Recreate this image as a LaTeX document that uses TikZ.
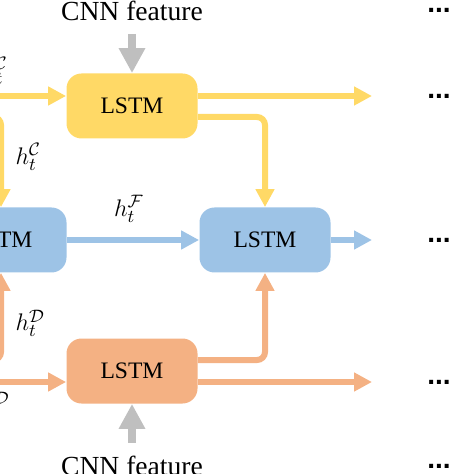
\documentclass[tikz,border=0pt]{standalone}
\usepackage{fontspec}
\setmainfont{Liberation Serif}
\setsansfont{Liberation Sans}
\usepackage[]{xcolor}
\usetikzlibrary{positioning,arrows.meta}

\definecolor{cellYellow}{HTML}{FFD966}
\definecolor{cellBlue}{HTML}{9DC3E6}
\definecolor{cellOrange}{HTML}{F4B183}
\definecolor{featGray}{HTML}{BFBFBF}

\begin{document}
\begin{tikzpicture}[
            x=0.5pt, y=-0.5pt,
            on grid,
            lstm/.style={rectangle, rounded corners=7.5pt, minimum width=65.5pt, minimum height=32.5pt, inner sep=0pt, font=\fontsize{11.8}{13}\selectfont},
            cellC/.style={lstm, fill=cellYellow},
            cellF/.style={lstm, fill=cellBlue},
            cellD/.style={lstm, fill=cellOrange},
            flow/.style={line width=3pt, -{Triangle[length=9pt,width=9pt]}, rounded corners=4pt},
            flowC/.style={flow, draw=cellYellow},
            flowF/.style={flow, draw=cellBlue},
            flowD/.style={flow, draw=cellOrange},
            feat/.style={line width=4pt, draw=featGray, -{Triangle[length=12.5pt,width=12.5pt]}, shorten <=3pt},
            feature/.style={anchor=base, inner sep=3.3pt, font=\fontsize{13.8}{16}\selectfont},
            hlabel/.style={font=\fontsize{12.5}{14}\selectfont},
            more/.style={anchor=base, inner sep=0pt, font=\sffamily\bfseries\fontsize{14}{16}\selectfont}
        ]
            \useasboundingbox (0,0) rectangle (474,474);
            \clip (0,0) rectangle (474,474);

            % LSTM cells
            \node[cellC] (C) at (132,106) {LSTM};
            \node[cellF, below right=67pt and 66.5pt of C] (F2) {LSTM};
            \node[cellF, left=132pt of F2] (F1) {LSTM};
            \node[cellD, below left=65.5pt and 66.5pt of F2] (D) {LSTM};

            % CNN features
            \node[feature] (cnnTop) at (132,20.5) {CNN feature};
            \node[feature] (cnnBot) at (132,475) {CNN feature};
            \draw[feat] (cnnTop) -- (C);
            \draw[feat] (cnnBot) -- (D);

            % loose ends
            \coordinate (Cin) at (-20,96);
            \coordinate (Din) at (-20,382);
            \coordinate (Cprev) at (-60,117);
            \coordinate (Dprev) at (-60,360);
            \coordinate (Cout) at (372,96);
            \coordinate (Fout) at (372,240);
            \coordinate (Dout) at (372,382);

            % yellow
            \draw[flowC] (Cin) -- ([yshift=5pt]C.west);
            \draw[flowC] ([yshift=5pt]C.east) -- (Cout);
            \draw[flowC] ([yshift=-5.5pt]C.east) -| (F2.north);
            \draw[flowC] (Cprev) -| node[hlabel, pos=0.72, right=2.5pt] {$h_t^{\mathcal{C}}$} (F1.north);
            \node[hlabel] (hCin) at (-5,71) {$h_t^{\mathcal{C}}$};

            % blue
            \draw[flowF] (F1.east) -- node[hlabel, above=4pt, xshift=-2pt] {$h_t^{\mathcal{F}}$} (F2.west);
            \draw[flowF] (F2.east) -- (Fout);

            % orange
            \draw[flowD] (Din) -- ([yshift=-5.5pt]D.west);
            \draw[flowD] ([yshift=-5.5pt]D.east) -- (Dout);
            \draw[flowD] ([yshift=5.5pt]D.east) -| (F2.south);
            \draw[flowD] (Dprev) -| node[hlabel, pos=0.71, right=2.5pt] {$h_t^{\mathcal{D}}$} (F1.south);
            \node[hlabel] (hDin) at (-5,406) {$h_t^{\mathcal{D}}$};

            % dots
            \foreach \y [count=\i] in {12.5,98.5,242.5,384.5,468.5}
                \node[more] (more\i) at (439,\y) {...};
        \end{tikzpicture}
\end{document}
